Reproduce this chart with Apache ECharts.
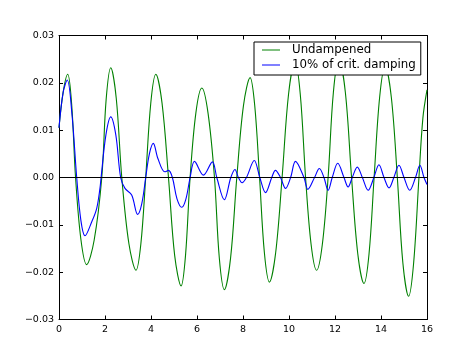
<!DOCTYPE html>
<html><head><meta charset="utf-8">
<script src="https://cdn.jsdelivr.net/npm/echarts@6/dist/echarts.min.js"></script>
<style>html,body{margin:0;padding:0;background:#fff}#c{width:474px;height:355px}</style>
</head><body><div id="c"></div>
<script>
// Undampened response (time, displacement)
const undampedTimes = [0,0.18,0.38,0.55,0.72,0.95,1.2,1.53,1.86,2.05,2.25,2.49,2.73,3.04,3.35,3.56,3.77,3.99,4.21,4.48,4.76,5.03,5.31,5.5,5.70,5.95,6.21,6.48,6.76,6.97,7.19,7.46,7.73,8.02,8.31,8.51,8.72,8.93,9.15,9.42,9.70,9.98,10.26,10.49,10.72,10.96,11.2,11.45,11.7,11.93,12.17,12.45,12.72,12.99,13.26,13.48,13.7,13.94,14.18,14.45,14.71,14.95,15.2,15.42,15.65,15.82,16];
const undampedValues = [0.0105,0.018,0.0218,0.0155,0,-0.013,-0.0184,-0.0132,0,0.0165,0.0232,0.0167,0,-0.014,-0.0196,-0.014,0,0.0157,0.0218,0.0157,0,-0.0165,-0.0229,-0.0165,0,0.0136,0.0189,0.0136,0,-0.017,-0.0237,-0.017,0,0.0152,0.0211,0.0152,0,-0.0159,-0.0221,-0.0159,0,0.0176,0.0245,0.0176,0,-0.0141,-0.0196,-0.0141,0,0.018,0.025,0.018,0,-0.0161,-0.0224,-0.0161,0,0.0169,0.0235,0.0169,0,-0.018,-0.0251,-0.018,0,0.0125,0.0185];
// 10% of critical damping
const dampedTimes = [0,0.18,0.36,0.57,0.77,0.95,1.13,1.42,1.64,1.78,1.83,2.04,2.25,2.47,2.68,2.87,3.16,3.42,3.6,3.77,3.93,4.1,4.3,4.6,4.76,4.93,5.13,5.34,5.52,5.70,5.89,6.28,6.67,6.86,7.19,7.47,7.65,7.8,7.96,8.15,8.49,8.73,8.98,9.25,9.41,9.63,9.85,10.07,10.28,10.65,10.82,11.11,11.32,11.52,11.7,11.88,12.12,12.39,12.57,12.75,12.97,13.19,13.44,13.69,13.91,14.13,14.35,14.56,14.78,15.0,15.25,15.5,15.69,15.87,16];
const dampedValues = [0.0105,0.018,0.0206,0.013,0,-0.009,-0.0123,-0.0094,-0.0065,-0.0023,0,0.009,0.0128,0.009,0,-0.0023,-0.0037,-0.0078,-0.0055,0,0.005,0.0072,0.004,0.0012,0.0015,0,-0.0045,-0.0063,-0.0045,0,0.0034,0.0005,0.0033,0,-0.0047,0,0.0017,0,-0.0011,0,0.0036,0,-0.0032,0,0.0015,0,-0.0023,0,0.0034,0,-0.0025,0,0.0019,0,-0.0027,0,0.0030,0,-0.002,0,0.0022,0,-0.0027,0,0.0027,0,-0.0022,0,0.0026,0,-0.0027,0,0.0026,0,-0.0015];
const seriesNames = ['Undampened','10% of crit. damping'];
const xRange = [0,16], xStep = 2;
const yRange = [-0.03,0.03], yStep = 0.01;

const font = 'DejaVu Sans';
const pair = (ts, vs) => ts.map((t,i)=>[t,vs[i]]);
const fmtY = v => { const r = Math.round(v*100)/100; return (r<0?'\u2212':'') + Math.abs(r).toFixed(2); };
const tickCommon = {show:true, inside:true, length:4, lineStyle:{color:'#000',width:1}};
const axLine = {show:true, onZero:false, lineStyle:{color:'#000',width:1}};
const chart = echarts.init(document.getElementById('c'), null, {renderer:'canvas'});
chart.setOption({
  animation:false,
  backgroundColor:'#fff',
  grid:{left:59, right:47, top:35.5, bottom:35.5, containLabel:false},
  xAxis:[
    {type:'value', min:xRange[0], max:xRange[1], interval:xStep, position:'bottom',
     axisLine:axLine, axisTick:tickCommon, splitLine:{show:false},
     axisLabel:{color:'#000', fontFamily:font, fontSize:9.5, margin:5, formatter:v=>String(v)}},
    {type:'value', min:xRange[0], max:xRange[1], interval:xStep, position:'top',
     axisLine:axLine, axisTick:tickCommon, splitLine:{show:false}, axisLabel:{show:false}}
  ],
  yAxis:[
    {type:'value', min:yRange[0], max:yRange[1], interval:yStep, position:'left',
     axisLine:axLine, axisTick:tickCommon, splitLine:{show:false},
     axisLabel:{color:'#000', fontFamily:font, fontSize:9.5, margin:5, formatter:fmtY}},
    {type:'value', min:yRange[0], max:yRange[1], interval:yStep, position:'right',
     axisLine:axLine, axisTick:tickCommon, splitLine:{show:false}, axisLabel:{show:false}}
  ],
  legend:{
    left:254, top:42, orient:'vertical', itemWidth:18, itemHeight:14, itemGap:3,
    padding:[2,5,4,8], borderColor:'#000', borderWidth:1, backgroundColor:'#fff',
    icon:'path://M0,0 L18,0 L18,1 L0,1 Z',
    textStyle:{color:'#000', fontFamily:font, fontSize:11.8, padding:[0,0,0,7]},
    data:seriesNames
  },
  series:[
    {name:seriesNames[0], type:'line', data:pair(undampedTimes,undampedValues), smooth:0.35,
     symbol:'none', lineStyle:{color:'#008000', width:1.1}, itemStyle:{color:'#008000'}, z:2},
    {name:seriesNames[1], type:'line', data:pair(dampedTimes,dampedValues), smooth:0.35,
     symbol:'none', lineStyle:{color:'#0000ff', width:1.1}, itemStyle:{color:'#0000ff'}, z:3,
     markLine:{silent:true, symbol:'none', label:{show:false}, lineStyle:{color:'#000', width:1, type:'solid'},
       data:[{yAxis:0}]}}
  ]
});
</script></body></html>
